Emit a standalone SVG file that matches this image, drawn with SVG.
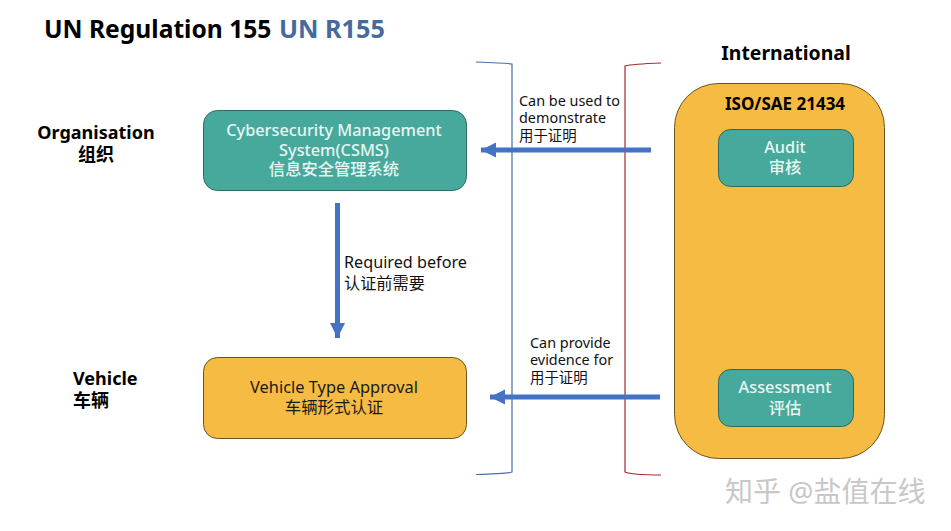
<svg xmlns="http://www.w3.org/2000/svg" width="951" height="531" viewBox="0 0 951 531">
<defs>
<style>
text{font-family:"Noto Sans","Noto Sans CJK SC",sans-serif;text-anchor:middle}
.b{font-weight:700;fill:#000}
.l{text-anchor:start}
.t{fill:#111;font-size:14.4px}
.w{fill:#e8f6f2;font-size:16.3px;font-weight:500}
.k{fill:#1a1a1a;font-size:16.4px}
.teal{fill:#47a99b;stroke:#2d6b62;stroke-width:1}
.gold{fill:#f6bb42;stroke:#6b5420;stroke-width:1}
.br{fill:none;stroke-width:1.2}
.ar{fill:none;stroke:#4472c4;stroke-width:5}
</style>
<marker id="h" markerUnits="userSpaceOnUse" markerWidth="16" markerHeight="16" refX="15" refY="8" orient="auto"><path d="M0 .5L15 8L0 15.500Z" fill="#4472c4"/></marker>
</defs>
<rect width="951" height="531" fill="#fff"/>
<g id="title"><text class="b l" x="44" y="38" font-size="24.6">UN Regulation 155</text><text class="b l" x="279" y="38" font-size="25.2" style="fill:#456a9e">UN R155</text></g>
<g id="label-organisation"><text class="b" x="96" y="139" font-size="18">Organisation</text><text class="b" x="96" y="161" font-size="18">组织</text></g>
<g id="label-vehicle"><text class="b l" x="73" y="385" font-size="18">Vehicle</text><text class="b l" x="73" y="407" font-size="18">车辆</text></g>
<g id="label-international"><text class="b" x="786" y="60" font-size="19.400">International</text></g>
<g id="brackets">
<path class="br" stroke="#4a6ea8" d="M476 62Q505 63 512 64V472Q505 474 476 474.500"/>
<path class="br" stroke="#a52a2a" d="M661 63Q632 64 625 66V472Q632 475 661 475"/>
</g>
<g id="csms"><rect class="teal" x="203.500" y="110.500" width="263" height="80" rx="14"/>
<text class="w" x="334" y="136">Cybersecurity Management</text><text class="w" x="334" y="156">System(CSMS)</text><text class="w" x="334" y="175">信息安全管理系统</text></g>
<g id="approval"><rect class="gold" x="203.500" y="357.500" width="263" height="81" rx="14"/>
<text class="k" x="334" y="393">Vehicle Type Approval</text><text class="k" x="334" y="413">车辆形式认证</text></g>
<g id="iso"><rect class="gold" x="674.500" y="83.500" width="210" height="375" rx="44"/>
<text class="b" x="785" y="110" font-size="17">ISO/SAE 21434</text></g>
<g id="audit"><rect class="teal" x="718.500" y="129.500" width="135" height="57" rx="12"/>
<text class="w" x="785" y="153">Audit</text><text class="w" x="785" y="173">审核</text></g>
<g id="assessment"><rect class="teal" x="718.500" y="369.500" width="135" height="57" rx="12"/>
<text class="w" x="785" y="393">Assessment</text><text class="w" x="785" y="414">评估</text></g>
<g id="connectors">
<path class="ar" d="M337.500 203V338" marker-end="url(#h)"/>
<path class="ar" d="M651 150H481" marker-end="url(#h)"/>
<path class="ar" d="M660 397H490" marker-end="url(#h)"/>
</g>
<g id="edge-labels">
<text class="l" x="344" y="268" font-size="16.200" fill="#111">Required before</text><text class="l" x="344" y="289" font-size="16.200" fill="#111">认证前需要</text>
<text class="t l" x="519" y="106">Can be used to</text><text class="t l" x="519" y="123">demonstrate</text><text class="t l" x="519" y="141">用于证明</text>
<text class="t l" x="530" y="348">Can provide</text><text class="t l" x="530" y="365">evidence for</text><text class="t l" x="530" y="383">用于证明</text>
</g>
<g id="watermark"><text class="l" x="725" y="502" font-size="28" fill="#c8c8c8">知乎 @盐值在线</text></g>
</svg>
